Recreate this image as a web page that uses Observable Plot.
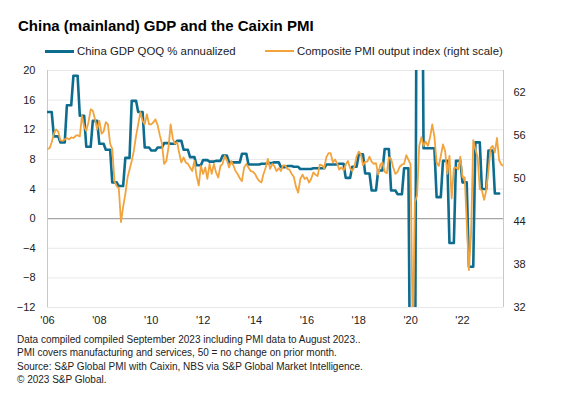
<!DOCTYPE html>
<html><head><meta charset="utf-8">
<script src="https://cdn.jsdelivr.net/npm/d3@7"></script>
<script src="https://cdn.jsdelivr.net/npm/@observablehq/plot@0.6"></script>
<style>
body{margin:0;background:#fff;font-family:"Liberation Sans",Arial,sans-serif;color:#000;}
#wrap{position:relative;width:565px;height:400px;overflow:hidden;background:#fff}
#title{position:absolute;left:18px;top:17px;font-size:15px;font-weight:bold;line-height:18px;white-space:nowrap}
.leg{position:absolute;top:44px;font-size:11.4px;line-height:14px;display:flex;align-items:center;color:#222;white-space:nowrap}
.sw{display:inline-block;width:29px;height:3px;margin-right:3px}
#chart{position:absolute;left:0;top:60px}
#foot{position:absolute;left:17px;top:333px;font-size:10px;line-height:13.4px;color:#222;white-space:nowrap}
</style></head>
<body>
<div id="wrap">
  <div id="title">China (mainland) GDP and the Caixin PMI</div>
  <div class="leg" style="left:45px"><span class="sw" style="background:#0e6d8e"></span>China GDP QOQ % annualized</div>
  <div class="leg" style="left:265px"><span class="sw" style="background:#f2a33c;height:2px"></span>Composite PMI output index (right scale)</div>
  <div id="chart"></div>
  <div id="foot">
    Data compiled compiled September 2023 including PMI data to August 2023..<br>
    PMI covers manufacturing and services, 50 = no change on prior month.<br>
    Source: S&amp;P Global PMI with Caixin, NBS via S&amp;P Global Market Intelligence.<br>
    © 2023 S&amp;P Global.
  </div>
</div>
<script>
// China GDP QOQ % annualized, quarterly 2006 Q1 .. 2023 Q2
const gdpQuarterly = [
  14.4, 11.1, 10.3, 15.3,   // 2006
  19.3, 13.9, 9.7, 13.2,    // 2007
  10.1, 9.3, 4.9, 4.4,      // 2008
  8.2, 15.9, 14.4, 9.6,     // 2009
  9.2, 9.6, 10.2, 10.1,     // 2010
  10.5, 9.3, 8.3, 7.2,      // 2011
  7.9, 7.7, 7.8, 8.5,       // 2012
  7.6, 7.6, 8.75, 7.3,      // 2013
  7.3, 7.4, 7.5, 7.6,       // 2014
  6.95, 7.1, 7.0, 6.7,      // 2015
  6.7, 6.8, 6.8, 7.3,       // 2016
  7.3, 7.4, 5.5, 7.0,       // 2017
  8.7, 6.1, 3.8, 6.5,       // 2018
  9.4, 3.8, 3.3, 6.8,       // 2019
  -33, 55, 9.5, 9.5,        // 2020
  2.9, 7.8, -3.3, 7.8,      // 2021
  4.9, -6.5, 10.3, 4.0,     // 2022
  9.2, 3.4                  // 2023
];
// Composite PMI output index, monthly Jan 2006 .. Aug 2023
const pmiMonthly = [
  54.1, 54.2, 55.0, 56.2, 56.8, 56.5, 55.3, 55.2, 55.4, 55.6, 55.4, 55.7, // 2006
  55.6, 55.9, 56.0, 55.8, 58.7, 57.2, 56.6, 57.8, 59.6, 59.4, 58.2, 56.8, // 2007
  58.0, 56.2, 56.5, 57.8, 57.5, 54.8, 54.1, 49.6, 48.9, 48.6, 43.9, 46.0, // 2008
  47.8, 50.1, 51.2, 52.4, 53.8, 55.9, 57.5, 59.2, 58.0, 57.5, 58.9, 57.5, // 2009
  57.5, 57.8, 58.2, 57.4, 56.0, 54.8, 52.0, 52.4, 54.3, 57.5, 55.5, 54.8, // 2010
  55.0, 53.4, 52.2, 52.9, 52.2, 52.0, 51.5, 51.0, 52.4, 50.3, 49.0, 51.7, // 2011
  50.6, 51.5, 49.9, 52.0, 50.6, 52.0, 50.8, 50.1, 51.7, 52.0, 53.1, 52.5, // 2012
  51.5, 52.4, 51.8, 51.0, 50.6, 50.0, 49.6, 51.5, 52.0, 51.5, 51.0, 50.9, // 2013
  50.6, 50.0, 49.6, 49.4, 50.6, 51.5, 52.7, 51.3, 52.0, 51.7, 51.0, 51.4, // 2014
  51.0, 51.8, 51.8, 51.3, 51.2, 50.6, 50.2, 48.8, 48.0, 49.9, 50.5, 49.9, // 2015
  50.1, 49.4, 49.9, 50.8, 50.5, 50.3, 51.9, 51.8, 51.4, 52.9, 53.5, 53.5, // 2016
  52.2, 52.6, 52.1, 51.2, 51.5, 51.1, 51.9, 52.4, 51.4, 51.0, 51.6, 53.0, // 2017
  53.7, 53.3, 51.8, 52.3, 52.3, 53.0, 52.3, 52.0, 52.1, 50.5, 51.9, 52.2, // 2018
  50.9, 50.7, 52.9, 52.7, 51.5, 50.6, 50.9, 51.6, 51.9, 52.0, 53.2, 52.6, // 2019
  51.9, 27.5, 46.7, 47.6, 54.5, 55.7, 54.5, 55.1, 54.5, 55.7, 57.5, 55.8, // 2020
  52.2, 51.7, 53.1, 54.7, 53.8, 50.6, 53.1, 47.2, 51.4, 51.5, 51.2, 53.0, // 2021
  50.1, 50.1, 43.9, 37.2, 42.2, 55.3, 54.0, 53.0, 48.5, 48.3, 47.0, 48.3, // 2022
  51.1, 54.2, 54.5, 53.6, 55.6, 52.5, 51.9, 51.7                          // 2023
];
const xTickYears = [2006, 2008, 2010, 2012, 2014, 2016, 2018, 2020, 2022];
const leftTicks = [-12, -8, -4, 0, 4, 8, 12, 16, 20];
const rightTicks = [32, 38, 44, 50, 56, 62];
const leftDomain = [-12, 20];
const rightDomain = [32, 65];

const pmiToLeft = p => leftDomain[0] + (p - rightDomain[0]) * (leftDomain[1] - leftDomain[0]) / (rightDomain[1] - rightDomain[0]);
const leftToPmi = v => rightDomain[0] + (v - leftDomain[0]) * (rightDomain[1] - rightDomain[0]) / (leftDomain[1] - leftDomain[0]);

const gdpRows = gdpQuarterly.flatMap((v, q) => [0, 1, 2].map(m => ({date: new Date(Date.UTC(2006, q * 3 + m, 1)), value: v})));
const pmiRows = pmiMonthly.map((p, i) => ({date: new Date(Date.UTC(2006, i, 1)), value: pmiToLeft(p)}));

const xStart = new Date(Date.UTC(2006, 0, 1));
const xEnd = new Date(Date.UTC(2023, 7, 1));

const chart = Plot.plot({
  width: 565, height: 270,
  marginTop: 10, marginBottom: 23, marginLeft: 47, marginRight: 62,
  style: {fontFamily: '"Liberation Sans", Arial, sans-serif', fontSize: "11px", color: "#222", background: "#fff", overflow: "visible"},
  x: {type: "utc", domain: [xStart, xEnd]},
  y: {domain: leftDomain},
  marks: [
    Plot.ruleY(leftTicks.filter(t => t !== 0), {stroke: "#e8e8e8", strokeWidth: 1}),
    Plot.ruleY([0], {stroke: "#a6a6a6", strokeWidth: 1.3}),
    Plot.ruleX([xStart, xEnd], {stroke: "#c8c8c8", strokeWidth: 1}),
    Plot.axisX({ticks: xTickYears.map(y => new Date(Date.UTC(y, 0, 1))), tickFormat: d => "'" + String(d.getUTCFullYear() % 100).padStart(2, "0"), tickSize: 0, tickPadding: 9, label: null}),
    Plot.axisY({anchor: "left", ticks: leftTicks, tickSize: 0, tickPadding: 12, label: null}),
    Plot.axisY({anchor: "right", ticks: rightTicks.map(pmiToLeft), tickFormat: v => String(Math.round(leftToPmi(v))), tickSize: 0, tickPadding: 10, label: null}),
    Plot.lineY(gdpRows, {x: "date", y: "value", stroke: "#0e6d8e", strokeWidth: 2.6, clip: true}),
    Plot.lineY(pmiRows, {x: "date", y: "value", stroke: "#f2a33c", strokeWidth: 1.8, clip: true})
  ]
});
document.getElementById("chart").appendChild(chart);
</script>
</body></html>
